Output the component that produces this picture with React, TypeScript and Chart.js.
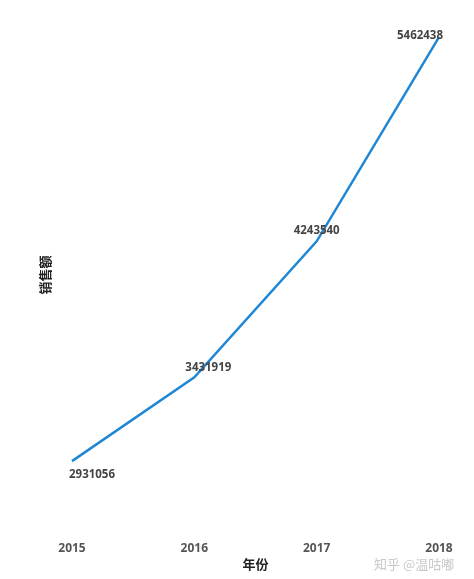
import React, { useRef, useEffect } from "react";
import Chart from "chart.js/auto";

const years = ["2015", "2016", "2017", "2018"];
const sales = [2931056, 3431919, 4243540, 5462438];

// label offsets relative to each point (style only)
const labelOffsets = [
  { dx: 20, dy: 14 },
  { dx: 14, dy: -10 },
  { dx: 0, dy: -11 },
  { dx: -19, dy: -1 },
];

const FONT = "'Open Sans', 'Noto Sans CJK SC', sans-serif";

const pointLabels = {
  id: "pointLabels",
  afterDatasetsDraw(chart: any) {
    const ctx = chart.ctx;
    const meta = chart.getDatasetMeta(0);
    ctx.save();
    ctx.font = `bold 11.5px ${FONT}`;
    ctx.fillStyle = "#444";
    ctx.textAlign = "center";
    ctx.textBaseline = "middle";
    meta.data.forEach((pt: any, i: number) => {
      const o = labelOffsets[i];
      ctx.fillText(String(sales[i]), pt.x + o.dx, pt.y + o.dy);
    });
    ctx.restore();
  },
};

const App: React.FC = () => {
  const canvasRef = useRef<HTMLCanvasElement | null>(null);

  useEffect(() => {
    if (!canvasRef.current) return;
    const chart = new Chart(canvasRef.current, {
      type: "line",
      data: {
        labels: years,
        datasets: [
          {
            label: "销售额",
            data: sales,
            borderColor: "#1f87d6",
            borderWidth: 2.5,
            pointRadius: 0,
            tension: 0,
            fill: false,
          },
        ],
      },
      options: {
        responsive: true,
        maintainAspectRatio: false,
        animation: false,
        layout: { padding: { top: 20, left: 10, right: 35, bottom: 0 } },
        plugins: {
          legend: { display: false },
          tooltip: { enabled: false },
        },
        scales: {
          x: {
            offset: false,
            grid: { display: false },
            border: { display: false },
            ticks: {
              color: "#555",
              font: { family: FONT, size: 12, weight: "bold" },
              padding: 3,
            },
            title: {
              display: true,
              text: "年份",
              color: "#222",
              font: { family: FONT, size: 13, weight: "bold" },
              padding: { top: 0, bottom: 6 },
            },
            afterFit: (scale: any) => {
              scale.height = 49;
            },
          },
          y: {
            min: 2520000,
            max: 5565000,
            grid: { display: false },
            border: { display: false },
            ticks: { display: false },
            title: {
              display: true,
              text: "销售额",
              color: "#222",
              font: { family: FONT, size: 13, weight: "bold" },
              padding: { top: 28, bottom: 0 },
            },
            afterFit: (scale: any) => {
              scale.width = 62;
            },
          },
        },
      },
      plugins: [pointLabels],
    });
    return () => chart.destroy();
  }, []);

  return (
    <div
      style={{
        position: "fixed",
        left: 0,
        top: 0,
        width: 474,
        height: 579,
        background: "#fff",
      }}
    >
      <canvas ref={canvasRef} />
      <div
        style={{
          position: "absolute",
          left: 374,
          top: 554,
          fontFamily: "'Noto Sans CJK SC', sans-serif",
          fontSize: 13,
          color: "#c8c8c8",
        }}
      >
        知乎 @温咕嘟
      </div>
    </div>
  );
};

export default App;
